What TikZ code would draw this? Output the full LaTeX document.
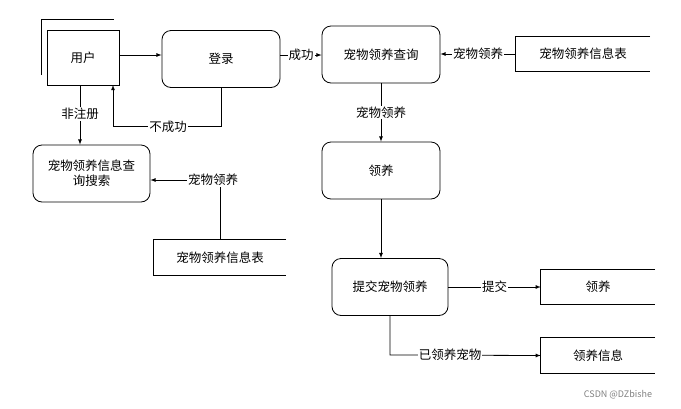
\documentclass[tikz,border=0pt]{standalone}
\usepackage{fontspec}
\setmainfont{Noto Sans CJK SC}
\begin{document}
\begin{tikzpicture}[x=1pt,y=-1pt,font=\fontsize{12.5}{15}\selectfont,
 proc/.style={draw,rounded corners=9pt,minimum width=118pt,minimum height=57pt,align=center,line width=0.8pt},
 ent/.style={draw,minimum width=72pt,minimum height=55pt,line width=0.8pt},
 lbl/.style={fill=white,inner sep=1pt},
 arr/.style={->,>=latex,line width=0.8pt},
 ln/.style={line width=0.8pt}]
\useasboundingbox (0,0) rectangle (681,408);
\node[ent] (user) at (83,57.5) {用户};
\draw[ln] (41,75) -- (41,19) -- (114,19);
\node[proc] (login) at (221,59) {登录};
\node[proc] (query) at (381,54.5) {宠物领养查询};
\node[proc] (adopt) at (381,170.5) {领养};
\node[proc,minimum width=117pt] (search) at (91.5,173.5) {宠物领养信息查\\询搜索};
\node[proc,minimum width=116pt] (submit) at (390,287) {提交宠物领养};
% data stores
\newcommand{\dstore}[5]{\node[minimum width=#3pt,minimum height=35pt,inner sep=0pt] (#1) at (#2) {#5};
 \draw[ln] (#1.north east) -- (#1.north west) -- (#1.south west) -- (#1.south east);}
\dstore{s1}{583,54}{134}{}{宠物领养信息表}
\dstore{s2}{220,257.5}{132}{}{宠物领养信息表}
\dstore{s3}{598,287}{114}{}{领养}
\dstore{s4}{598,355.5}{114}{}{领养信息}
\draw[arr] (user.east |- 0,55) -- (login.west |- 0,55);
\draw[arr] (login.south) -- (221,126) -- (113,126) -- (113,85);
\node[lbl] at (168,127) {不成功};
\draw[arr] (80,85) -- (search.north -| 80,0);
\node[lbl] at (80,114) {非注册};
\draw[arr] (login.east |- 0,55) -- (query.west |- 0,55) node[lbl,midway] {成功};
\draw[arr] (s1.west) -- (query.east |- s1.west) node[lbl,midway] {宠物领养};
\draw[arr] (query.south) -- (adopt.north) node[lbl,midway] {宠物领养};
\draw[arr] (adopt.south) -- (submit.north -| adopt.south);
\draw[arr] (s2.north) -- (220,180) -- (search.east |- 0,180);
\node[lbl] at (213,180) {宠物领养};
\draw[arr] (submit.east) -- (s3.west) node[lbl,midway] {提交};
\draw[arr] (submit.south) -- (390,355) -- (s4.west);
\node[lbl] at (450,355) {已领养宠物};
\node[font=\fontsize{9}{10}\selectfont,text=gray] at (618,395) {CSDN @DZbishe};
\end{tikzpicture}
\end{document}
